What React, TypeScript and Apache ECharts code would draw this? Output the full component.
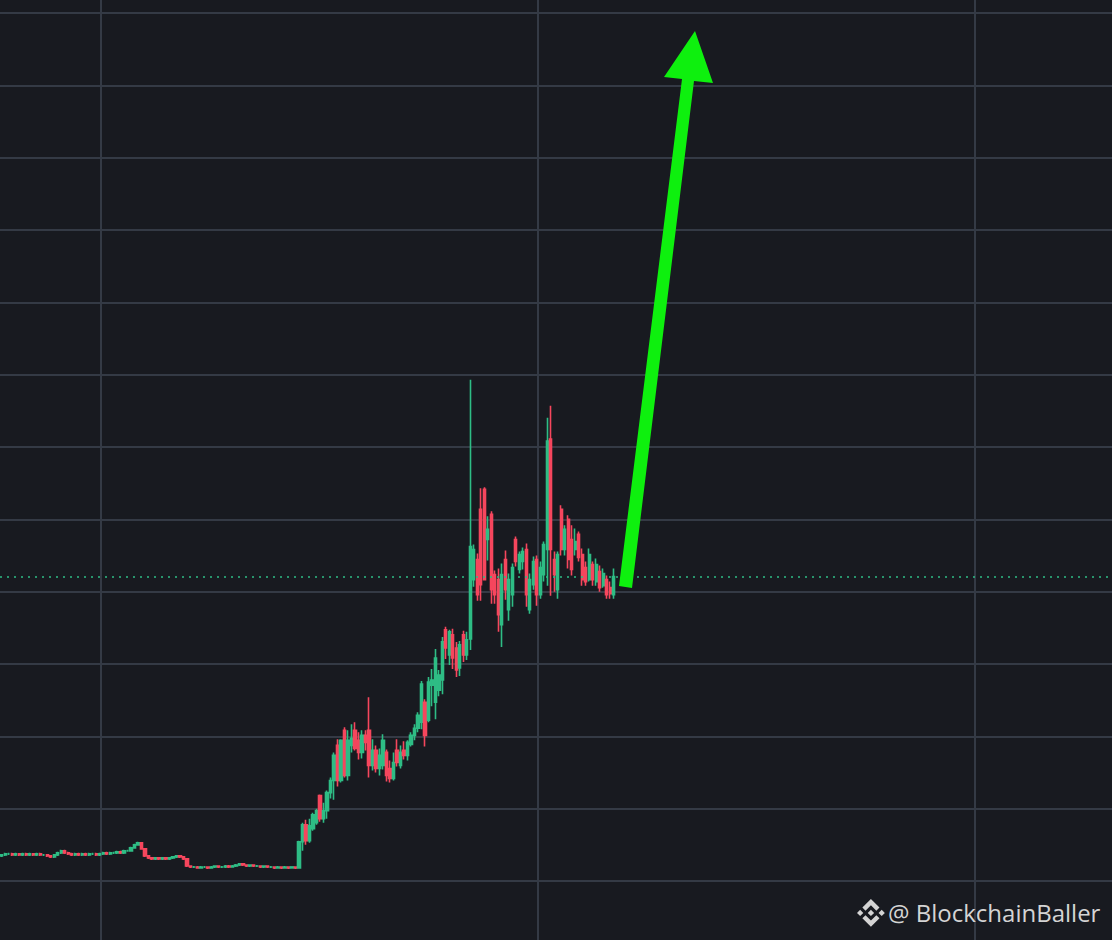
import React, { useEffect, useRef } from "react";
import * as echarts from "echarts";

// candle values: [open, close, low, high]
const flatCandles: number[][] = [
  [25, 26, 24, 27], [26, 27, 25, 28], [27, 27, 26, 28], [27, 26, 25, 28], [26, 27, 25, 28],
  [27, 26, 25, 27], [26, 27, 25, 28], [27, 26, 25, 28], [26, 27, 25, 28], [27, 26, 25, 27],
  [26, 27, 25, 28], [27, 26, 25, 28], [26, 26, 25, 27], [26, 25, 24, 27], [25, 24, 23, 26],
  [24, 26, 23, 27], [26, 28, 25, 29], [28, 30, 27, 31], [30, 28, 27, 31], [28, 27, 26, 29],
  [27, 26, 25, 28], [26, 27, 25, 28], [27, 26, 25, 28], [26, 27, 25, 28], [27, 26, 25, 28],
  [26, 27, 25, 28], [27, 27, 26, 28], [27, 26, 25, 28], [26, 27, 25, 28], [27, 28, 26, 29],
  [28, 27, 26, 29], [27, 28, 26, 29], [28, 28, 27, 29], [28, 29, 27, 30], [29, 28, 27, 30],
  [28, 30, 27, 31], [30, 30, 29, 31], [30, 33, 29, 34], [33, 36, 32, 37], [36, 38, 35, 39],
  [38, 32, 31, 38], [32, 25, 24, 32], [25, 23, 22, 25], [23, 22, 21, 23], [22, 23, 21, 24],
  [23, 22, 21, 23], [22, 23, 21, 24], [23, 22, 21, 23], [22, 23, 21, 24], [23, 24, 22, 25],
  [24, 25, 23, 25], [25, 24, 23, 25], [24, 22, 21, 24], [22, 15, 14, 22], [15, 14, 13, 15],
  [14, 14, 13, 15], [14, 13, 13, 15], [13, 14, 13, 15], [14, 14, 13, 15], [14, 13, 12, 14],
  [13, 14, 13, 15], [14, 15, 13, 15], [15, 14, 13, 15], [14, 14, 13, 15], [14, 15, 13, 16],
  [15, 14, 13, 16], [14, 15, 14, 16], [15, 16, 14, 17], [16, 17, 15, 17], [17, 16, 15, 17],
  [16, 15, 14, 16], [15, 16, 14, 16], [16, 15, 14, 16], [15, 15, 14, 16], [15, 14, 13, 15],
  [14, 15, 13, 15], [15, 14, 13, 15], [14, 14, 13, 15], [14, 13, 12, 14], [13, 14, 13, 15],
  [14, 13, 12, 14], [13, 14, 13, 15], [14, 13, 12, 14], [13, 14, 13, 14], [14, 13, 12, 14],
];

const rallyCandles: number[][] = [
  [13, 39, 13, 40], [39, 56, 30, 58], [56, 40, 36, 61], [40, 55, 38, 62], [52, 66, 50, 68],
  [58, 70, 56, 72], [85, 62, 59, 86], [62, 70, 58, 78], [70, 88, 62, 90], [88, 100, 82, 103],
  [100, 125, 81, 128], [135, 100, 94, 141], [100, 140, 98, 141], [150, 105, 103, 153], [105, 140, 100, 150],
  [135, 142, 128, 156], [150, 132, 130, 158], [140, 128, 121, 148], [128, 145, 122, 150], [145, 138, 130, 150],
  [150, 115, 103, 183], [115, 130, 110, 141], [130, 112, 108, 135], [112, 125, 105, 132], [115, 140, 111, 146],
  [128, 105, 99, 131], [112, 102, 98, 120], [102, 118, 100, 128], [130, 118, 114, 141], [115, 128, 112, 135],
  [130, 125, 121, 139], [125, 138, 120, 140], [136, 145, 134, 148], [145, 152, 140, 156], [152, 165, 148, 168],
  [158, 196, 151, 199], [178, 145, 134, 181], [160, 198, 158, 203], [195, 200, 174, 211], [178, 222, 161, 231],
  [190, 205, 184, 210], [200, 238, 186, 243], [250, 232, 221, 253], [225, 248, 215, 250], [245, 222, 211, 251],
  [232, 210, 203, 238], [212, 235, 204, 239], [245, 225, 218, 249], [225, 240, 220, 248],
];

const peakCandles: number[][] = [
  [241, 333, 230, 499], [300, 330, 293, 335], [320, 285, 279, 326], [370, 295, 279, 391], [390, 300, 299, 392],
  [340, 350, 319, 363], [365, 290, 276, 368], [305, 285, 276, 309], [300, 265, 248, 311], [255, 305, 233, 316],
  [320, 290, 280, 329], [270, 300, 259, 306], [285, 312, 273, 316], [340, 318, 313, 343], [310, 325, 306, 328],
  [318, 328, 310, 332], [330, 285, 273, 336], [270, 300, 266, 306], [295, 318, 290, 323], [320, 285, 274, 324],
  [285, 312, 281, 318], [305, 335, 298, 338], [330, 438, 294, 461], [440, 330, 284, 473], [320, 305, 288, 328],
  [290, 325, 281, 328], [370, 330, 324, 374], [330, 350, 324, 354], [360, 320, 311, 364], [340, 310, 304, 354],
  [330, 338, 324, 351], [345, 322, 318, 348], [325, 300, 294, 331], [312, 298, 294, 318], [300, 325, 298, 331],
  [315, 300, 294, 318], [298, 315, 294, 321], [308, 292, 288, 314], [294, 306, 292, 311], [300, 285, 281, 304],
  [292, 286, 281, 298], [285, 303, 281, 311],
];

const candles = [...flatCandles, ...rallyCandles, ...peakCandles];
const CATEGORY_COUNT = 318;
const categories: string[] = Array.from({ length: CATEGORY_COUNT }, (_, i) => String(i + 1));
const lastPrice = 303;
const priceTicks = { min: 0, max: 864, interval: 72 };

const UP = "#2ebd85";
const DOWN = "#f6465d";
const GRID_LINE = "#343a45";
const BG = "#181a20";

const binanceLogo =
  "M38.73 53.2 L63.3 28.63 L87.89 53.21 L102.19 38.91 L63.3 0 L24.43 38.9 Z " +
  "M0 63.31 L14.3 49.01 L28.6 63.31 L14.3 77.61 Z " +
  "M38.73 73.41 L63.3 98 L87.89 73.41 L102.19 87.7 L63.3 126.61 L24.43 87.74 Z " +
  "M98 63.31 L112.3 49.01 L126.6 63.31 L112.3 77.61 Z " +
  "M77.83 63.3 L63.3 48.76 L48.77 63.28 L63.3 77.83 Z";

let registered = false;

export default function App() {
  const ref = useRef<HTMLDivElement>(null);
  useEffect(() => {
    document.body.style.margin = "0";
    if (!registered) {
      echarts.graphic.registerShape("logo", echarts.graphic.extendPath(binanceLogo, {}));
      registered = true;
    }
    const chart = echarts.init(ref.current!, null, { renderer: "svg" });
    chart.setOption({
      animation: false,
      backgroundColor: BG,
      grid: [
        { left: 0, right: 0, top: 13, bottom: 59 },
        { left: 101, right: 137, top: 0, bottom: 0 },
      ],
      xAxis: [
        {
          type: "category",
          gridIndex: 0,
          data: categories,
          boundaryGap: true,
          axisLine: { show: false },
          axisTick: { show: false },
          axisLabel: { show: false },
          splitLine: { show: false },
        },
        {
          type: "value",
          gridIndex: 1,
          min: 0,
          max: 2,
          interval: 1,
          axisLine: { show: false },
          axisTick: { show: false },
          axisLabel: { show: false },
          splitLine: { show: true, lineStyle: { color: GRID_LINE, width: 2 } },
        },
      ],
      yAxis: [
        {
          type: "value",
          gridIndex: 0,
          min: priceTicks.min,
          max: priceTicks.max,
          interval: priceTicks.interval,
          axisLine: { show: false },
          axisTick: { show: false },
          axisLabel: { show: false },
          splitLine: { show: true, lineStyle: { color: GRID_LINE, width: 2 } },
        },
        {
          type: "value",
          gridIndex: 1,
          axisLine: { show: false },
          axisTick: { show: false },
          axisLabel: { show: false },
          splitLine: { show: false },
        },
      ],
      series: [
        {
          type: "candlestick",
          xAxisIndex: 0,
          yAxisIndex: 0,
          data: candles,
          barWidth: 2.8,
          itemStyle: {
            color: UP,
            color0: DOWN,
            borderColor: UP,
            borderColor0: DOWN,
            borderWidth: 1.6,
          },
          markLine: {
            silent: true,
            symbol: "none",
            label: { show: false },
            lineStyle: { color: UP, type: [2, 5], width: 1.5 },
            data: [{ yAxis: lastPrice }],
          },
        },
      ],
      graphic: [
        {
          type: "polygon",
          shape: {
            points: [
              [619, 586], [632, 588], [694, 81], [713, 83], [695, 31], [664, 77], [682, 79],
            ],
          },
          style: { fill: "#0ef00e" },
          z: 100,
        },
        {
          type: "logo",
          x: 857,
          y: 899,
          scaleX: 0.22,
          scaleY: 0.22,
          style: { fill: "#d4d4d4" },
          z: 100,
        },
        {
          type: "text",
          x: 888,
          y: 912,
          style: {
            text: "@ BlockchainBaller",
            fontSize: 24,
            fontFamily: "Open Sans",
            fill: "#d4d4d4",
            verticalAlign: "middle",
          },
          z: 100,
        },
      ],
    });
    return () => chart.dispose();
  }, []);
  return (
    <div
      ref={ref}
      style={{ position: "fixed", left: 0, top: 0, width: 1112, height: 940 }}
    />
  );
}
